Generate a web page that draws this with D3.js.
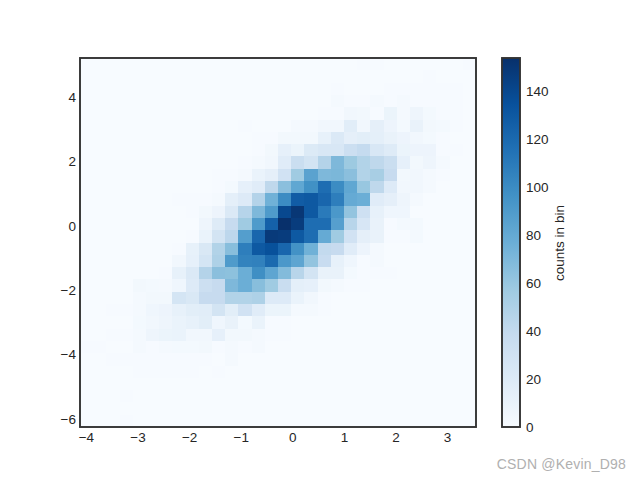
<!DOCTYPE html>
<html>
<head>
<meta charset="utf-8">
<script src="https://cdn.jsdelivr.net/npm/d3@7"></script>
<style>
html,body{margin:0;padding:0;background:#fff;}
svg{display:block;}
text{font-family:"Liberation Sans",Arial,sans-serif;}
</style>
</head>
<body>
<svg id="chart" width="640" height="480"></svg>
<script>
// Bin counts: rows run top to bottom (high y to low y), columns left to right.
const counts = [
[0,0,0,0,0,0,0,0,0,0,0,0,0,0,0,0,0,0,0,0,0,1,1,0,0,0,0,0,0,1],
[0,0,0,0,0,0,0,0,0,0,0,0,0,0,0,0,0,0,0,0,0,0,0,0,0,0,1,0,0,0],
[0,0,0,0,0,0,0,0,0,0,0,0,0,0,0,0,0,0,0,1,0,0,0,1,1,1,1,1,1,0],
[0,0,0,0,0,0,0,0,0,0,0,0,0,0,0,0,0,0,0,2,1,1,2,1,2,1,1,1,1,0],
[0,0,0,0,0,0,0,0,0,0,0,0,0,0,0,0,0,0,1,1,5,4,1,9,2,7,3,1,1,0],
[0,0,0,0,0,0,0,0,0,0,0,0,1,0,0,0,2,2,5,5,17,5,14,8,3,11,4,3,1,0],
[0,0,0,0,0,0,0,0,0,0,0,0,0,1,1,4,4,4,12,22,14,16,15,11,8,5,3,1,0,0],
[0,0,0,0,0,0,0,0,0,0,0,0,0,1,4,13,9,21,24,24,34,39,24,19,9,8,8,1,1,0],
[0,0,0,0,0,0,0,0,0,0,0,0,1,2,5,18,35,28,47,70,58,48,42,35,13,4,7,2,0,0],
[0,0,0,0,0,0,0,0,0,0,1,1,2,10,14,30,57,85,70,71,65,48,53,38,4,5,2,1,0,0],
[0,0,0,0,0,0,0,0,0,0,1,3,13,18,42,65,82,97,118,100,82,60,42,20,5,5,2,0,0,0],
[0,0,0,0,0,0,0,1,1,1,2,15,20,47,75,100,128,130,122,108,80,77,18,14,7,2,0,0,0,0],
[0,0,0,0,0,0,0,0,1,4,8,22,46,70,90,140,150,130,110,92,62,32,12,6,6,0,0,0,0,0],
[0,0,0,0,0,0,0,0,0,7,19,38,57,90,125,154,147,118,118,87,45,25,11,1,3,3,0,0,0,0],
[0,0,0,0,0,0,0,0,1,10,28,43,88,122,148,147,130,118,80,57,30,14,11,1,1,3,0,0,0,0],
[0,0,0,0,0,0,0,1,12,23,48,66,108,130,135,122,96,75,40,38,18,8,2,0,0,0,0,0,0,0],
[0,0,0,0,0,0,0,5,13,27,50,90,105,106,120,92,83,62,37,12,6,1,2,0,0,0,0,0,0,0],
[0,0,0,0,0,0,1,12,22,47,65,64,77,98,83,68,45,28,11,11,3,1,1,1,0,0,0,0,0,0],
[0,0,0,0,4,3,2,6,20,34,38,70,77,66,57,36,15,13,4,2,1,1,0,0,0,0,0,0,0,0],
[0,0,0,0,2,4,4,27,23,38,38,48,48,50,20,20,10,5,1,0,0,0,0,0,0,0,0,0,0,0],
[0,0,1,1,2,6,8,12,16,17,28,16,30,18,9,9,2,2,1,0,0,0,0,0,0,0,0,0,0,0],
[0,0,0,0,3,5,7,10,12,16,6,11,3,10,1,1,0,0,0,0,0,0,0,0,0,0,0,0,0,0],
[0,0,1,1,2,7,9,10,5,5,13,4,4,2,1,1,0,0,0,0,0,0,0,0,0,0,0,0,0,0],
[1,1,0,0,2,1,2,3,3,4,1,2,1,2,0,0,0,0,0,0,0,0,0,0,0,0,0,0,0,0],
[0,0,1,1,1,1,1,1,1,1,0,2,0,0,0,0,0,0,0,0,0,0,0,0,0,0,0,0,0,0],
[0,0,0,0,1,1,1,1,1,0,1,0,0,0,0,0,0,0,0,0,0,0,0,0,0,0,0,0,0,0],
[0,0,0,0,0,0,0,0,0,0,0,0,0,0,0,0,0,0,0,0,0,0,0,0,0,0,0,0,0,0],
[0,0,0,1,0,0,0,0,0,0,0,0,0,0,0,0,0,0,0,0,0,0,0,0,0,0,0,0,0,0],
[0,0,0,0,0,0,0,0,0,0,0,0,0,0,0,0,0,0,0,0,0,0,0,0,0,0,0,0,0,0],
[0,0,0,1,0,0,0,0,0,0,0,0,0,0,0,0,0,0,0,0,0,0,0,0,0,0,0,0,0,0]
];
const xTicks = [-4,-3,-2,-1,0,1,2,3];
const yTicks = [-6,-4,-2,0,2,4];
const barTicks = [0,20,40,60,80,100,120,140];
const xExtent = [-4.115, 3.56];
const yExtent = [-6.25, 5.21];
const countMax = 154;
const blues = ["#f7fbff","#deebf7","#c6dbef","#9ecae1","#6baed6","#4292c6","#2171b5","#08519c","#08306b"];
const barLabel = "counts in bin";
const watermark = "CSDN @Kevin_D98";

const INK = "#262626", FRAME = "#333333";
const plot = {left:80, right:476, top:58, bottom:427};
const bar = {left:502, right:520};
const svg = d3.select("#chart");

const x = d3.scaleLinear().domain(xExtent).range([plot.left, plot.right]);
const y = d3.scaleLinear().domain(yExtent).range([plot.bottom, plot.top]);
const col = d3.scaleBand().domain(d3.range(counts[0].length)).range([plot.left, plot.right]);
const row = d3.scaleBand().domain(d3.range(counts.length)).range([plot.top, plot.bottom]);
const color = d3.scaleLinear()
  .domain(blues.map((_, i) => i * countMax / (blues.length - 1)))
  .range(blues).clamp(true);

// Heat cells
svg.append("g").attr("shape-rendering","crispEdges")
  .selectAll("g").data(counts).join("g")
  .attr("transform",(d,j)=>`translate(0,${row(j)})`)
  .selectAll("rect").data(d=>d).join("rect")
  .attr("x",(d,i)=>col(i))
  .attr("width",col.bandwidth())
  .attr("height",row.bandwidth())
  .attr("fill",d=>color(d));

function styleAxis(g){
  g.select(".domain").remove();
  g.selectAll(".tick line").remove();
  g.selectAll("text").attr("fill",INK).style("font-size","13.5px")
   .style("font-family",'"Liberation Sans",Arial,sans-serif');
}

svg.append("g").attr("transform",`translate(0,${plot.bottom})`)
  .call(d3.axisBottom(x).tickValues(xTicks).tickSize(0).tickPadding(5))
  .call(styleAxis);
svg.append("g").attr("transform",`translate(${plot.left},0)`)
  .call(d3.axisLeft(y).tickValues(yTicks).tickSize(0).tickPadding(4))
  .call(styleAxis);

svg.append("rect")
  .attr("x",plot.left).attr("y",plot.top)
  .attr("width",plot.right-plot.left).attr("height",plot.bottom-plot.top)
  .attr("fill","none").attr("stroke",FRAME).attr("stroke-width",1.9);

// Colour bar
const barY = d3.scaleLinear().domain([0,countMax]).range([plot.bottom,plot.top]);
const defs = svg.append("defs");
const grad = defs.append("linearGradient").attr("id","blues")
  .attr("x1",0).attr("y1",1).attr("x2",0).attr("y2",0);
grad.selectAll("stop").data(blues).join("stop")
  .attr("offset",(d,i)=>i/(blues.length-1))
  .attr("stop-color",d=>d);
svg.append("rect")
  .attr("x",bar.left).attr("y",plot.top)
  .attr("width",bar.right-bar.left).attr("height",plot.bottom-plot.top)
  .attr("fill","url(#blues)").attr("stroke",FRAME).attr("stroke-width",1.9);
svg.append("g").attr("transform",`translate(${bar.right},0)`)
  .call(d3.axisRight(barY).tickValues(barTicks).tickSize(0).tickPadding(6))
  .call(styleAxis);

svg.append("text")
  .attr("transform",`translate(564,${(plot.top+plot.bottom)/2+0.5}) rotate(-90)`)
  .attr("text-anchor","middle").attr("fill",INK)
  .style("font-size","13.5px").text(barLabel);

svg.append("text")
  .attr("x",626).attr("y",469).attr("text-anchor","end")
  .attr("fill","#b0b0b0").style("font-size","14px").style("letter-spacing","0.2px")
  .text(watermark);
</script>
</body>
</html>
